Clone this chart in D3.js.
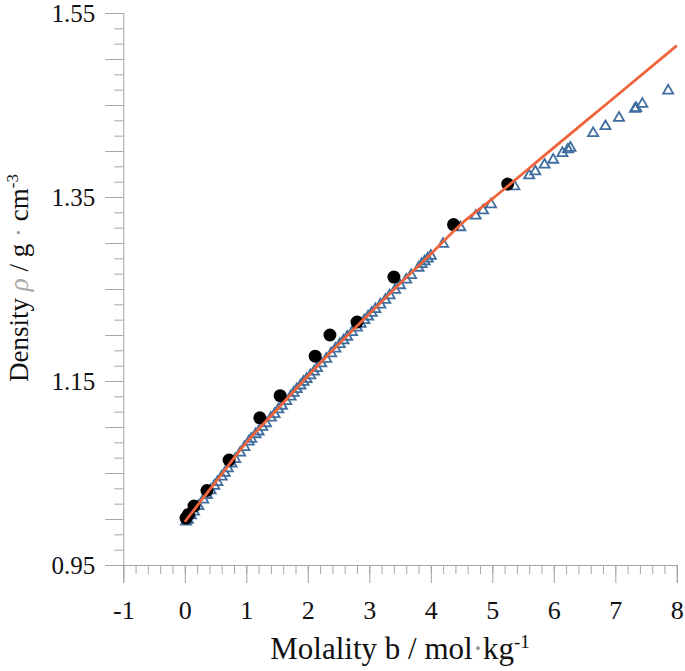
<!DOCTYPE html>
<html>
<head>
<meta charset="utf-8">
<script src="https://cdn.jsdelivr.net/npm/d3@7"></script>
<style>
  html, body { margin: 0; padding: 0; background: #fff; }
  svg text { font-family: "Liberation Serif", "DejaVu Serif", serif; fill: #111; }
</style>
</head>
<body>
<svg id="chart"></svg>
<script>
// molality (mol/kg) and density (g/cm3)
const triMolality = [0.02, 0.05, 0.10, 0.15, 0.22, 0.30, 0.36, 0.42, 0.48, 0.53, 0.60, 0.65,
  0.70, 0.76, 0.82, 0.90, 0.97, 1.04, 1.08, 1.15, 1.20, 1.26, 1.32, 1.40, 1.46, 1.52, 1.58,
  1.65, 1.72, 1.77, 1.82, 1.88, 1.93, 1.98, 2.04, 2.10, 2.15, 2.22, 2.30, 2.38, 2.45, 2.52,
  2.58, 2.64, 2.72, 2.80, 2.86, 2.92, 2.98, 3.04, 3.10, 3.18, 3.26, 3.33, 3.42, 3.50, 3.60,
  3.68, 3.80, 3.85, 3.90, 3.95, 4.00, 4.20, 4.48, 4.73, 4.85, 4.98, 5.36, 5.60, 5.70, 5.85,
  5.99, 6.14, 6.23, 6.27, 6.64, 6.84, 7.06, 7.32, 7.34, 7.44, 7.86];
const triDensity = [0.997, 0.999, 1.004, 1.008, 1.014, 1.021, 1.026, 1.031, 1.036, 1.040, 1.046, 1.050,
  1.055, 1.060, 1.065, 1.072, 1.078, 1.084, 1.087, 1.092, 1.095, 1.100, 1.104, 1.110, 1.114, 1.119, 1.123,
  1.128, 1.133, 1.137, 1.141, 1.145, 1.149, 1.152, 1.156, 1.160, 1.164, 1.169, 1.174, 1.180, 1.185, 1.190,
  1.194, 1.198, 1.203, 1.208, 1.212, 1.216, 1.220, 1.224, 1.228, 1.233, 1.238, 1.243, 1.249, 1.254, 1.260,
  1.265, 1.273, 1.277, 1.280, 1.283, 1.286, 1.299, 1.317, 1.3296, 1.3353, 1.3419, 1.3614, 1.3733, 1.3777, 1.385,
  1.3904, 1.3976, 1.4016, 1.4034, 1.4193, 1.4269, 1.436, 1.4458, 1.4465, 1.4512, 1.4656];

const dotMolality = [0.02, 0.06, 0.15, 0.36, 0.72, 1.22, 1.55, 2.12, 2.36, 2.80, 3.40, 4.37, 5.25];
const dotDensity = [1.001, 1.005, 1.014, 1.031, 1.064, 1.110, 1.134, 1.177, 1.200, 1.214, 1.263, 1.320, 1.364];

const fitMolality = [0, 0.5, 1, 1.5, 2, 2.5, 3, 3.5, 4, 4.5, 5, 6, 7, 8];
const fitDensity = [0.997, 1.040, 1.083, 1.119, 1.1555, 1.190, 1.223, 1.256, 1.288, 1.321, 1.348, 1.4036, 1.459, 1.5145];

const xTickValues = [-1, 0, 1, 2, 3, 4, 5, 6, 7, 8];
const xTickLabels = ["-1", "0", "1", "2", "3", "4", "5", "6", "7", "8"];
const yTickValues = [0.95, 1.15, 1.35, 1.55];
const yTickLabels = ["0.95", "1.15", "1.35", "1.55"];

const width = 685, height = 671;
const margin = { left: 123.3, right: 8.2, top: 13, bottom: 106 };

const svg = d3.select("#chart").attr("width", width).attr("height", height);

const x = d3.scaleLinear().domain([-1, 8]).range([margin.left, width - margin.right]);
const y = d3.scaleLinear().domain([0.95, 1.55]).range([height - margin.bottom, margin.top]);

const axisColor = "#a6a6a6";

// x axis: minor ticks, then major ticks with labels
const gx = svg.append("g").attr("transform", `translate(0,${y(0.95)})`);
gx.append("g")
  .call(d3.axisBottom(x).tickValues(d3.range(-1, 8.001, 0.2)).tickSize(9).tickFormat(""))
  .call(g => g.select(".domain").remove());
gx.append("g")
  .call(d3.axisBottom(x).tickValues(xTickValues).tickSize(18).tickPadding(18)
    .tickFormat((d, i) => xTickLabels[i]));
gx.selectAll("line, path").attr("stroke", axisColor);
gx.selectAll("text").style("font-size", "26px").attr("fill", "#111");

// y axis
const gy = svg.append("g").attr("transform", `translate(${x(-1)},0)`);
gy.append("g")
  .call(d3.axisLeft(y).tickValues(d3.range(0, 37).map(i => 0.95 + i / 60)).tickSize(9).tickFormat(""))
  .call(g => g.select(".domain").remove());
gy.append("g")
  .call(d3.axisLeft(y).tickValues(d3.range(0, 13).map(i => 0.95 + i * 0.05)).tickSize(18).tickFormat(""))
  .call(g => g.select(".domain").remove());
gy.append("g")
  .call(d3.axisLeft(y).tickValues(yTickValues).tickSize(18).tickPadding(10)
    .tickFormat((d, i) => yTickLabels[i]));
gy.selectAll("line, path").attr("stroke", axisColor);
gy.selectAll("text").style("font-size", "25px").attr("fill", "#111");

// triangles
const triangle = d3.symbol().type(d3.symbolTriangle).size(44);
svg.append("g")
  .selectAll("path")
  .data(triMolality.map((b, i) => [b, triDensity[i]]))
  .join("path")
  .attr("d", triangle)
  .attr("transform", d => `translate(${x(d[0])},${y(d[1])})`)
  .attr("fill", "none")
  .attr("stroke", "#3f6e9e")
  .attr("stroke-width", 1.8);

// filled dots
svg.append("g")
  .selectAll("circle")
  .data(dotMolality.map((b, i) => [b, dotDensity[i]]))
  .join("circle")
  .attr("cx", d => x(d[0]))
  .attr("cy", d => y(d[1]))
  .attr("r", 6.5)
  .attr("fill", "#000");

// fitted curve
const line = d3.line().x(d => x(d[0])).y(d => y(d[1])).curve(d3.curveMonotoneX);
svg.append("path")
  .datum(fitMolality.map((b, i) => [b, fitDensity[i]]))
  .attr("d", line)
  .attr("fill", "none")
  .attr("stroke", "#f0643c")
  .attr("stroke-width", 2.8);

// axis titles
const xt = svg.append("text")
  .attr("x", (x(-1) + x(8)) / 2)
  .attr("y", 659)
  .attr("text-anchor", "middle")
  .style("font-size", "31px");
xt.append("tspan").text("Molality b / mol");
xt.append("tspan").attr("fill", "#999").text("·");
xt.append("tspan").text("kg");
xt.append("tspan").attr("dy", -11).style("font-size", "19px").text("-1");

const yt = svg.append("text")
  .attr("transform", `translate(28,${(y(0.95) + y(1.55)) / 2 - 11}) rotate(-90)`)
  .attr("text-anchor", "middle")
  .style("font-size", "27px");
yt.append("tspan").text("Density ");
yt.append("tspan").attr("fill", "#aaa").style("font-style", "italic").text("ρ");
yt.append("tspan").text(" / g ");
yt.append("tspan").attr("fill", "#999").text("·");
yt.append("tspan").text(" cm");
yt.append("tspan").attr("dy", -10).style("font-size", "17px").text("-3");
</script>
</body>
</html>
